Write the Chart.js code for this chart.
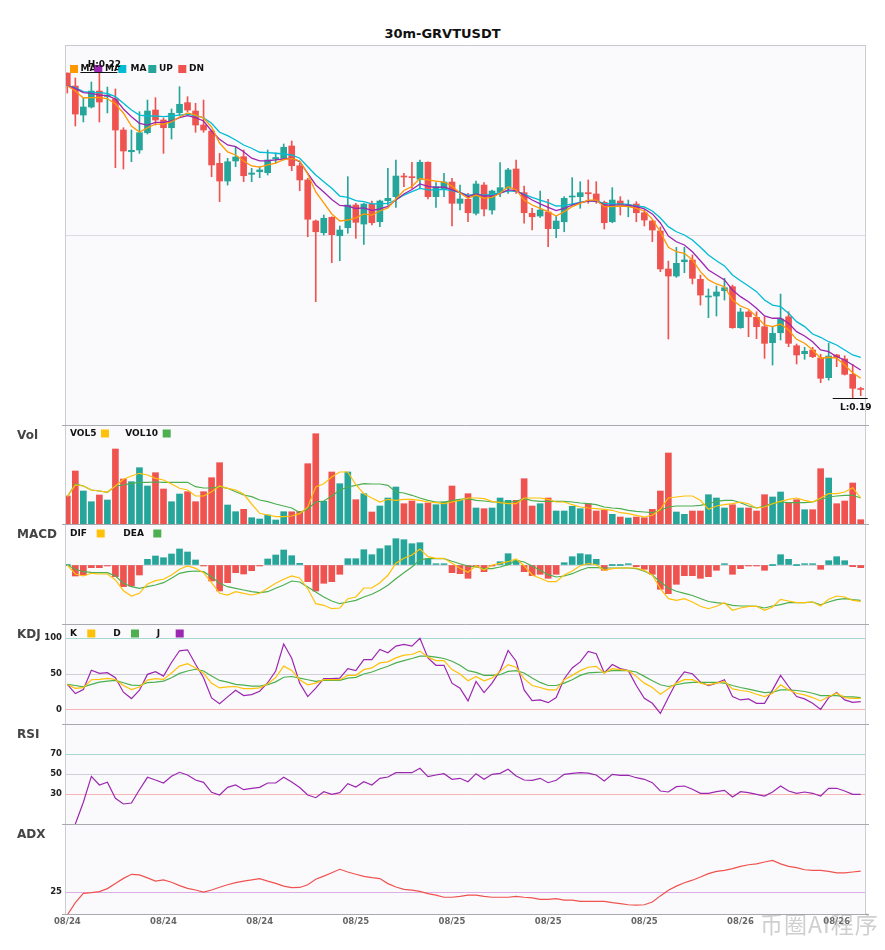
<!DOCTYPE html>
<html>
<head>
<meta charset="utf-8">
<script src="https://cdn.jsdelivr.net/npm/chart.js@4.4.1/dist/chart.umd.min.js"></script>
<style>
    body { margin: 0; width: 885px; height: 950px; position: relative; overflow: hidden; background: #fff; font-family: "DejaVu Sans", sans-serif; }
    canvas { position: absolute; left: 0; }
    .title { position: absolute; left: 0; top: 26px; width: 885px; text-align: center; font-weight: bold; font-size: 13px; line-height: 16px; color: #111; }
    .pname { position: absolute; left: 17px; font-weight: bold; font-size: 12px; line-height: 14px; color: #444; }
    .mark { position: absolute; left: 760px; top: 906px; font-family: "Noto Sans CJK SC", sans-serif; font-size: 23px; color: rgba(160, 160, 160, 0.5); letter-spacing: 1px; }
</style>
</head>
<body>
<div class="title">30m-GRVTUSDT</div>
<canvas id="main" width="885" height="380" style="top:45px"></canvas>
<canvas id="vol" width="885" height="99" style="top:425px"></canvas>
<canvas id="macd" width="885" height="100" style="top:524px"></canvas>
<canvas id="kdj" width="885" height="100" style="top:624px"></canvas>
<canvas id="rsi" width="885" height="100" style="top:724px"></canvas>
<canvas id="adx" width="885" height="116" style="top:824px"></canvas>
<div class="pname" style="top:428px">Vol</div>
<div class="pname" style="top:527px">MACD</div>
<div class="pname" style="top:627px">KDJ</div>
<div class="pname" style="top:727px">RSI</div>
<div class="pname" style="top:827px">ADX</div>
<div class="mark">币圈AI程序</div>
<script>
// x axis: one tick label every 12 candles (6 hours)
var tickIdx = [0, 12, 24, 36, 48, 60, 72, 84, 96];
var tickLabels = ['08/24', '08/24', '08/24', '08/25', '08/25', '08/25', '08/25', '08/26', '08/26'];

var opens = [
    0.21992, 0.21872, 0.21605, 0.21679, 0.21826, 0.21776, 0.21753, 0.21467, 0.21267, 0.21283,
    0.21442, 0.21651, 0.21559, 0.21488, 0.21626, 0.21719, 0.21642, 0.21513, 0.21458, 0.21160,
    0.20997, 0.21182, 0.21221, 0.21059, 0.21083, 0.21074, 0.21200, 0.21206, 0.21320, 0.21138,
    0.21007, 0.20629, 0.20521, 0.20663, 0.20493, 0.20567, 0.20776, 0.20601, 0.20785, 0.20622,
    0.20816, 0.20853, 0.21041, 0.21034, 0.21013, 0.21170, 0.20853, 0.20921, 0.20988, 0.20792,
    0.20829, 0.20700, 0.20960, 0.20730, 0.20893, 0.20930, 0.21108, 0.20890, 0.20700, 0.20675,
    0.20712, 0.20558, 0.20622, 0.20850, 0.20853, 0.20890, 0.20878, 0.20801, 0.20622, 0.20813,
    0.20761, 0.20785, 0.20705, 0.20629, 0.20537, 0.20187, 0.20122, 0.20254, 0.20270, 0.20092,
    0.19929, 0.19938, 0.19987, 0.20024, 0.19646, 0.19791, 0.19742, 0.19655, 0.19508, 0.19600,
    0.19747, 0.19480, 0.19407, 0.19441, 0.19367, 0.19186, 0.19395, 0.19358, 0.19217, 0.19086
];
var highs = [
    0.21992, 0.21946, 0.21762, 0.21909, 0.22000, 0.21863, 0.21845, 0.21488, 0.21467, 0.21636,
    0.21743, 0.21765, 0.21578, 0.21661, 0.21866, 0.21774, 0.21713, 0.21743, 0.21467, 0.21252,
    0.21206, 0.21313, 0.21283, 0.21114, 0.21129, 0.21283, 0.21255, 0.21338, 0.21366, 0.21160,
    0.21022, 0.20638, 0.20684, 0.20668, 0.20583, 0.21037, 0.20792, 0.20792, 0.20813, 0.20822,
    0.21114, 0.21191, 0.21068, 0.21170, 0.21191, 0.21175, 0.20982, 0.21068, 0.21022, 0.20960,
    0.20884, 0.20997, 0.20982, 0.20914, 0.21166, 0.21114, 0.21191, 0.20951, 0.20746, 0.20905,
    0.20829, 0.20675, 0.20853, 0.21028, 0.20991, 0.21007, 0.20991, 0.20813, 0.20936, 0.20853,
    0.20822, 0.20807, 0.20730, 0.20638, 0.20574, 0.20260, 0.20387, 0.20387, 0.20316, 0.20131,
    0.20003, 0.20030, 0.20101, 0.20039, 0.19825, 0.19803, 0.19793, 0.19747, 0.19650, 0.19956,
    0.19793, 0.19496, 0.19466, 0.19466, 0.19401, 0.19502, 0.19401, 0.19388, 0.19309, 0.19097
];
var lows = [
    0.21808, 0.21504, 0.21541, 0.21670, 0.21541, 0.21624, 0.21120, 0.21108, 0.21175, 0.21252,
    0.21430, 0.21513, 0.21252, 0.21384, 0.21605, 0.21636, 0.21446, 0.21446, 0.21037, 0.20807,
    0.20960, 0.21129, 0.20991, 0.20991, 0.21028, 0.21053, 0.21163, 0.21191, 0.21092, 0.20908,
    0.20484, 0.19886, 0.20500, 0.20245, 0.20263, 0.20516, 0.20470, 0.20414, 0.20592, 0.20576,
    0.20776, 0.20755, 0.20945, 0.20930, 0.20930, 0.20832, 0.20755, 0.20853, 0.20583, 0.20730,
    0.20622, 0.20684, 0.20675, 0.20693, 0.20853, 0.20884, 0.20884, 0.20608, 0.20546, 0.20663,
    0.20392, 0.20475, 0.20530, 0.20776, 0.20746, 0.20792, 0.20792, 0.20555, 0.20613, 0.20684,
    0.20668, 0.20622, 0.20583, 0.20438, 0.20162, 0.19542, 0.20110, 0.20153, 0.20049, 0.19855,
    0.19738, 0.19754, 0.19901, 0.19641, 0.19641, 0.19563, 0.19545, 0.19364, 0.19302, 0.19533,
    0.19471, 0.19312, 0.19355, 0.19370, 0.19140, 0.19164, 0.19287, 0.19210, 0.19000, 0.19020
];
var closes = [
    0.21872, 0.21614, 0.21679, 0.21826, 0.21725, 0.21789, 0.21467, 0.21274, 0.21280, 0.21442,
    0.21642, 0.21559, 0.21488, 0.21621, 0.21704, 0.21651, 0.21513, 0.21467, 0.21145, 0.20997,
    0.21175, 0.21218, 0.21046, 0.21071, 0.21099, 0.21191, 0.21214, 0.21308, 0.21138, 0.21007,
    0.20645, 0.20530, 0.20654, 0.20503, 0.20546, 0.20776, 0.20617, 0.20785, 0.20613, 0.20813,
    0.20838, 0.21043, 0.21034, 0.21028, 0.21170, 0.20853, 0.20945, 0.20988, 0.20792, 0.20832,
    0.20705, 0.20970, 0.20739, 0.20905, 0.20936, 0.21099, 0.20899, 0.20705, 0.20668, 0.20730,
    0.20558, 0.20629, 0.20838, 0.20859, 0.20890, 0.20880, 0.20807, 0.20613, 0.20822, 0.20776,
    0.20776, 0.20705, 0.20638, 0.20546, 0.20187, 0.20122, 0.20239, 0.20270, 0.20101, 0.19947,
    0.19938, 0.19975, 0.20014, 0.19646, 0.19791, 0.19747, 0.19655, 0.19502, 0.19594, 0.19726,
    0.19502, 0.19395, 0.19429, 0.19379, 0.19180, 0.19385, 0.19370, 0.19217, 0.19088, 0.19077
];

var ma5 = [
    0.21875, 0.21826, 0.21762, 0.21766, 0.21766, 0.21757, 0.21707, 0.21624, 0.21504, 0.21449,
    0.21486, 0.21522, 0.21522, 0.21541, 0.21587, 0.21624, 0.21605, 0.21578, 0.21495, 0.21347,
    0.21265, 0.21237, 0.21182, 0.21136, 0.21126, 0.21145, 0.21163, 0.21195, 0.21205, 0.21182,
    0.21062, 0.20896, 0.20795, 0.20694, 0.20629, 0.20638, 0.20657, 0.20694, 0.20684, 0.20721,
    0.20749, 0.20832, 0.20910, 0.20947, 0.21020, 0.21007, 0.20997, 0.20988, 0.20951, 0.20887,
    0.20838, 0.20868, 0.20838, 0.20847, 0.20884, 0.20945, 0.20915, 0.20822, 0.20776, 0.20746,
    0.20715, 0.20675, 0.20715, 0.20761, 0.20792, 0.20822, 0.20822, 0.20761, 0.20761, 0.20767,
    0.20761, 0.20746, 0.20721, 0.20647, 0.20528, 0.20387, 0.20346, 0.20332, 0.20270, 0.20162,
    0.20086, 0.20049, 0.20024, 0.19901, 0.19846, 0.19816, 0.19748, 0.19671, 0.19656, 0.19680,
    0.19625, 0.19539, 0.19503, 0.19441, 0.19365, 0.19374, 0.19365, 0.19303, 0.19232, 0.19180
];
var ma10 = [
    0.21875, 0.21851, 0.21811, 0.21805, 0.21789, 0.21783, 0.21753, 0.21661, 0.21590, 0.21529,
    0.21513, 0.21538, 0.21538, 0.21550, 0.21580, 0.21599, 0.21580, 0.21550, 0.21458, 0.21381,
    0.21329, 0.21313, 0.21267, 0.21207, 0.21182, 0.21184, 0.21191, 0.21200, 0.21207, 0.21175,
    0.21068, 0.20961, 0.20896, 0.20827, 0.20772, 0.20767, 0.20744, 0.20749, 0.20726, 0.20740,
    0.20763, 0.20822, 0.20878, 0.20919, 0.20970, 0.20947, 0.20938, 0.20942, 0.20915, 0.20892,
    0.20853, 0.20878, 0.20859, 0.20859, 0.20884, 0.20915, 0.20908, 0.20868, 0.20822, 0.20786,
    0.20755, 0.20724, 0.20746, 0.20776, 0.20798, 0.20813, 0.20813, 0.20776, 0.20776, 0.20776,
    0.20774, 0.20761, 0.20740, 0.20694, 0.20611, 0.20491, 0.20438, 0.20408, 0.20346, 0.20263,
    0.20178, 0.20132, 0.20086, 0.19994, 0.19932, 0.19886, 0.19825, 0.19754, 0.19733, 0.19733,
    0.19687, 0.19610, 0.19570, 0.19517, 0.19441, 0.19425, 0.19379, 0.19349, 0.19303, 0.19257
];
var ma20 = [
    0.21875, 0.21857, 0.21820, 0.21814, 0.21811, 0.21805, 0.21774, 0.21713, 0.21651, 0.21605,
    0.21596, 0.21596, 0.21590, 0.21596, 0.21605, 0.21612, 0.21599, 0.21580, 0.21529, 0.21446,
    0.21415, 0.21375, 0.21329, 0.21299, 0.21262, 0.21258, 0.21253, 0.21246, 0.21237, 0.21207,
    0.21129, 0.21053, 0.20991, 0.20930, 0.20859, 0.20847, 0.20816, 0.20807, 0.20786, 0.20786,
    0.20792, 0.20822, 0.20868, 0.20899, 0.20930, 0.20915, 0.20915, 0.20921, 0.20908, 0.20890,
    0.20868, 0.20875, 0.20868, 0.20875, 0.20890, 0.20905, 0.20905, 0.20875, 0.20847, 0.20822,
    0.20798, 0.20767, 0.20770, 0.20786, 0.20801, 0.20813, 0.20813, 0.20792, 0.20786, 0.20786,
    0.20783, 0.20767, 0.20758, 0.20721, 0.20657, 0.20577, 0.20530, 0.20500, 0.20454, 0.20387,
    0.20316, 0.20263, 0.20215, 0.20132, 0.20079, 0.20030, 0.19978, 0.19901, 0.19855, 0.19840,
    0.19779, 0.19702, 0.19656, 0.19588, 0.19558, 0.19517, 0.19487, 0.19441, 0.19395, 0.19374
];

var volumes = [
    28, 53, 33, 22.3, 29, 24, 75, 45, 42.3, 56.3,
    38, 51.3, 35, 22.3, 30, 32.3, 22.3, 32.3, 46.3, 61.3,
    19, 12.3, 14.7, 6.3, 5, 9, 4, 12.3, 12.2, 12.7,
    60.3, 90.3, 22.7, 52, 40.3, 52, 24.3, 30.3, 12, 18,
    26, 37, 20.3, 23, 20.3, 21, 19.3, 22, 38, 24.7,
    30.3, 16, 15.3, 16, 26, 23.7, 23.7, 45.3, 18, 20.3,
    26, 13, 13, 17.7, 15.3, 20.3, 13, 13.7, 9.7, 7,
    6, 7, 6.3, 14.7, 33, 71, 12, 9.7, 13, 13,
    29.3, 26, 16, 19.3, 16, 16, 13, 29.3, 27, 32,
    21, 24.3, 14.3, 14.3, 55.3, 46, 20.3, 23, 41, 4.3
];
var vol5 = [
    27.3, 39, 38, 34, 33, 32, 38, 44.7, 48, 50.7,
    49, 45.7, 44, 40, 35.7, 34, 28, 28, 32.3, 38,
    35.7, 34, 30, 20, 10.7, 9, 7.3, 7.3, 8, 10.3,
    17, 37, 40.3, 47, 52, 52, 39.3, 30.3, 26, 22,
    24.7, 23.7, 24.7, 24.7, 23.7, 22, 21.3, 20.3, 22, 23.7,
    26, 26, 25.3, 22.7, 21.3, 20.3, 20.3, 26, 26, 26,
    24.7, 22, 22, 19.3, 17, 16, 15.3, 14.7, 13.7, 11.3,
    10.3, 8.7, 7, 8.7, 14.7, 26, 27, 28, 28, 23.7,
    14.7, 18, 19.3, 20.3, 22, 20.3, 16, 17, 20.3, 22.7,
    24.7, 26, 23.7, 22, 26, 30.3, 30.3, 32, 36.3, 26
];
var vol10 = [
    27.3, 40, 38, 34, 33, 31.7, 38, 39, 40.7, 41.7,
    41.7, 42, 41.7, 41.7, 41.7, 41.7, 37.3, 36, 36, 37.3,
    35.7, 32.3, 29, 27.3, 24, 22.3, 20, 18, 16, 11.5,
    15, 22, 23, 28, 33.7, 37, 38.7, 40.3, 40, 40,
    38.7, 32, 31, 28.7, 26, 23.7, 22, 22, 23.3, 24.7,
    25.3, 23.7, 23, 22, 22, 22, 22.7, 25.3, 23.3, 22.7,
    22.7, 22.7, 22.7, 22, 21, 20.3, 19.3, 17, 16, 15.3,
    13.7, 12.7, 12, 11.3, 13.7, 17, 18, 18, 18, 18.7,
    20.3, 22.7, 23.7, 23.7, 21.3, 18, 16, 18, 20.3, 22,
    21.3, 21.3, 21.3, 22, 24.7, 27, 28, 28.7, 28.7, 26
];

var macdHist = [
    0, -0.00022, -0.0002, -0.000054, -0.000054, -0.00002, -0.000234, -0.000434, -0.00042, -0.0002,
    0.000114, 0.00018, 0.000146, 0.00022, 0.00032, 0.00026, 0.0001, -0.00002, -0.00032, -0.00052,
    -0.000354, -0.000154, -0.00018, -0.000114, -0.00002, 0.00012, 0.0002, 0.0003, 0.000186, 0.000034,
    -0.000334, -0.00052, -0.000366, -0.000334, -0.000186, 0.000126, 0.000126, 0.000306, 0.000206, 0.000326,
    0.000386, 0.000526, 0.000506, 0.000426, 0.000446, 0.000126, 0.000026, 0.000026, -0.000154, -0.000174,
    -0.000266, -0.000034, -0.000134, -0.00002, 0.000066, 0.000226, 0.000086, -0.000134, -0.000214, -0.000186,
    -0.000266, -0.000186, 0.000046, 0.000166, 0.000226, 0.000206, 0.000114, -0.000106, 0, 0,
    0.000026, -0.000034, -0.000086, -0.000186, -0.000486, -0.000574, -0.000386, -0.000214, -0.000214, -0.000266,
    -0.000234, -0.000106, 0.000026, -0.000186, -0.000074, -0.000014, -0.000014, -0.000106, 0, 0.000206,
    0.000114, 0, 0.000026, 0.000026, -0.000086, 0.000086, 0.000166, 0.000086, -0.000034, -0.000054
];
var dif = [
    0, -0.00018, -0.00022, -0.000166, -0.00018, -0.00018, -0.0003, -0.000514, -0.00062, -0.000566,
    -0.00038, -0.000314, -0.000286, -0.0002, -0.000086, -0.00002, -0.000066, -0.000154, -0.000354, -0.000566,
    -0.0006, -0.000534, -0.000566, -0.0006, -0.000566, -0.000466, -0.000366, -0.000286, -0.00022, -0.00026,
    -0.000474, -0.000774, -0.000806, -0.000874, -0.00086, -0.000674, -0.00064, -0.00046, -0.00046, -0.000354,
    -0.000206, 0.000034, 0.000134, 0.0002, 0.00032, 0.000166, 0.000134, 0.000134, 0.000034, -0.000066,
    -0.000146, -0.000014, -0.0001, 0, 0.000034, 0.000066, 0.00012, -0.000014, -0.0002, -0.000266,
    -0.000334, -0.000334, -0.0002, -0.00012, -0.000014, 0.00003, 0.000006, -0.000106, -0.000074, -0.00006,
    -0.00006, -0.00006, -0.000106, -0.000206, -0.000474, -0.000674, -0.000706, -0.000674, -0.00074, -0.000826,
    -0.000874, -0.000826, -0.000754, -0.000906, -0.00086, -0.000826, -0.000826, -0.000906, -0.00084, -0.000686,
    -0.00072, -0.000754, -0.000754, -0.00074, -0.00082, -0.000686, -0.00062, -0.00064, -0.000706, -0.000726
];
var dea = [
    0, -0.000086, -0.000134, -0.000146, -0.000154, -0.000154, -0.00022, -0.000366, -0.000434, -0.000466,
    -0.000434, -0.0004, -0.000354, -0.000266, -0.000166, -0.000134, -0.00012, -0.000134, -0.000234, -0.000366,
    -0.000434, -0.000466, -0.0005, -0.000534, -0.000554, -0.000534, -0.000466, -0.0004, -0.00032, -0.00034,
    -0.00044, -0.00054, -0.00064, -0.00072, -0.000774, -0.00074, -0.000706, -0.00064, -0.000586, -0.000506,
    -0.000406, -0.000274, -0.000154, -0.00004, 0.000106, 0.000126, 0.000126, 0.000126, 0.000074, 0.000026,
    -0.00002, -0.00004, -0.000074, -0.000074, -0.00004, 0.000006, 0.000094, 0.00006, -0.00002, -0.000106,
    -0.000194, -0.00024, -0.00022, -0.000174, -0.000106, -0.00005, -0.000054, -0.00006, -0.00006, -0.00006,
    -0.00006, -0.000074, -0.000126, -0.0002, -0.00034, -0.00046, -0.000526, -0.000566, -0.00061, -0.00067,
    -0.00073, -0.000754, -0.00077, -0.000806, -0.00082, -0.00082, -0.000826, -0.00086, -0.00082, -0.000794,
    -0.000754, -0.000754, -0.000754, -0.00074, -0.000794, -0.00074, -0.000694, -0.000674, -0.000694, -0.000706
];

var kValues = [
    35.4, 30, 30.8, 42, 42.5, 44, 42.3, 33.8, 28.2, 31.8,
    41.5, 43.5, 42.4, 51.5, 61, 64.5, 58.5, 51, 37, 30.5,
    32, 32.5, 29.5, 29.5, 30.6, 36.2, 45, 61, 55, 42,
    34.9, 37.2, 42, 42, 42, 48.1, 48.1, 56.1, 58.5, 65.5,
    67, 72.6, 76.4, 77.3, 82, 73.6, 68.8, 68.8, 56.1, 50,
    40.5, 46.7, 40.5, 44.3, 53.7, 63.2, 59.4, 43.4, 33.9, 31.1,
    27.8, 27.8, 42, 48.1, 54.7, 59.5, 60.8, 51.4, 57.5, 56.1,
    54.7, 46.7, 37.2, 31.1, 21.7, 29.2, 37.2, 42, 42, 37.2,
    34.9, 37.2, 39.6, 29.2, 26.9, 25.5, 21.7, 18.4, 23.1, 34.9,
    27.8, 23.1, 20.7, 17, 12.3, 18.4, 23.1, 17, 16, 16
];
var dValues = [
    35.4, 33.9, 32.1, 35.4, 38.6, 40, 41, 37.8, 34.4, 33.9,
    37.8, 38.6, 40, 44.8, 50.9, 54.2, 56.6, 54.2, 47.1, 41,
    38.6, 35.4, 34.4, 33, 33, 35, 39, 45.5, 46.5, 44.3,
    42, 39.6, 41, 41, 41, 44.3, 45.3, 50, 52.8, 57,
    60.8, 65.5, 68.8, 71.7, 75, 75, 73.6, 71.7, 67.9, 62.2,
    54.7, 52.3, 48.1, 48.1, 49, 53.7, 54.7, 51.4, 44.3, 38.2,
    33.9, 33.9, 37.2, 42, 48.1, 51.5, 52.3, 52.8, 54.7, 55.2,
    54.7, 52.8, 46.7, 40.5, 34.9, 32.5, 34.9, 37.2, 38.2, 38.2,
    38.2, 38.2, 37.2, 33.9, 31.1, 28.8, 26.4, 24, 24.5, 27.8,
    27.8, 26.9, 25.5, 23.1, 19.8, 19.8, 19.8, 18.4, 17.9, 17
];
var jValues = [
    35.4, 22.6, 28.3, 55.2, 50.9, 51.9, 44.8, 24.5, 15.6, 27.3,
    49.5, 53.3, 47.1, 66.1, 82.5, 83.9, 63.6, 44.8, 16.5, 8.5,
    18, 27.3, 19.8, 21.2, 25.9, 37.8, 54.2, 91.9, 72, 37.2,
    18.4, 30.2, 43.4, 43.4, 44.3, 57.5, 54.7, 70.2, 70.2, 84.4,
    79.7, 89.1, 91.5, 89.1, 100, 72.6, 62.2, 62.2, 37.2, 30.2,
    12.3, 39.6, 24, 37.2, 54.7, 83, 67.9, 27.8, 12.7, 13.7,
    9.9, 17, 43.4, 58.5, 67, 81.5, 78.3, 51.4, 63.2, 57.5,
    54.7, 33.9, 16, 9, -5.2, 17, 38.7, 52.8, 50.4, 38.7,
    33.9, 37.2, 42, 18.4, 13.7, 15.1, 9, 9, 27.8, 48.1,
    32.5, 18.4, 15.1, 9, 0.5, 17, 24, 13.7, 10.4, 11.3
];

var rsi = [
    null, 0, 21.7, 47.7, 39, 41.7, 25.7, 20, 21, 34.3,
    46.7, 44, 41, 47.7, 51.7, 49, 44, 41.7, 31.7, 29,
    36.7, 39, 34.3, 35.7, 36.7, 41, 41, 46.7, 42, 36.5,
    29, 26.3, 32.3, 29.7, 31.3, 40.3, 37, 42.3, 39, 45.7,
    47, 51.3, 51.3, 51.3, 55.7, 47.3, 49, 50.3, 44.7, 45.7,
    42.3, 50.3, 44.7, 49.7, 50.7, 54.7, 48, 44, 43.7, 45.7,
    41.3, 43.7, 49.7, 50.7, 51.3, 50.8, 49, 43, 49.7, 48.7,
    48.7, 46.3, 44.7, 41.3, 33, 32, 37.3, 38, 34.7, 30.7,
    30.7, 32.3, 33.7, 27, 32.3, 31.3, 29.7, 28, 32, 38,
    33, 30.7, 32, 30.7, 28, 35.7, 35.7, 33, 29.7, 29.7
];

var adx = [
    15, 20.4, 24.5, 24.8, 25.3, 26.6, 28.9, 31.1, 32.9, 32.6,
    31.3, 29.9, 30.4, 29.4, 27.9, 26.7, 26, 25.1, 26, 27.2,
    28.3, 29.2, 29.9, 30.4, 31, 29.9, 28.9, 27.7, 27, 27.1,
    28.3, 30.7, 32.1, 33.6, 35.1, 33.9, 32.9, 32, 31.4, 31,
    28.8, 27.3, 26.3, 25.9, 25.4, 24.4, 23.7, 22.8, 22.8, 23.2,
    23.7, 23.7, 23.2, 22.8, 22.8, 22.8, 23.2, 22.8, 22.5, 21.9,
    21.9, 22.2, 21.5, 21.5, 21, 21, 21, 21, 20.4, 20,
    19.5, 19.3, 19.5, 20.7, 23.4, 25.9, 27.7, 29.2, 30.3, 31.7,
    33.2, 34.2, 34.6, 35.4, 36.4, 37.1, 37.5, 38.3, 39, 37.5,
    36.4, 35.8, 34.9, 34.6, 34.6, 34.2, 33.5, 33.5, 33.9, 34.3
];

// reference levels drawn as grid lines
var priceTicks = [0.205];
var macdTicks = [0];
var kdjTicks = [0, 50, 100];
var rsiTicks = [30, 50, 70];
var adxTicks = [25];

var UP = '#26a69a';
var DN = '#ef5350';

Chart.defaults.font.family = '"DejaVu Sans", sans-serif';

function points(arr) {
    return arr.map(function (v, i) { return { x: i, y: v }; });
}

function spans(a, b) {
    return a.map(function (v, i) { return { x: i, y: [v, b[i]] }; });
}

var candleColors = closes.map(function (c, i) { return c >= opens[i] ? UP : DN; });
var histColors = macdHist.map(function (v) { return v >= 0 ? UP : DN; });

function lineSet(arr, color, width) {
    return {
        type: 'line',
        data: points(arr),
        borderColor: color,
        borderWidth: width || 1.2,
        pointRadius: 0,
        tension: 0,
        order: 0
    };
}

function barSet(data, colors, thickness, order) {
    return {
        type: 'bar',
        data: data,
        backgroundColor: colors,
        barThickness: thickness,
        minBarLength: 1,
        grouped: false,
        borderWidth: 0,
        order: order
    };
}

// background, frame and the little legend of every panel
function panelPlugin(cfg) {
    return {
        id: 'panel',
        beforeDraw: function (chart) {
            var ctx = chart.ctx, a = chart.chartArea;
            ctx.save();
            ctx.fillStyle = '#fafafc';
            ctx.fillRect(a.left, a.top, a.right - a.left, a.bottom - a.top);
            ctx.restore();
        },
        afterDraw: function (chart) {
            var ctx = chart.ctx, a = chart.chartArea;
            ctx.save();
            ctx.lineWidth = 1;
            ctx.strokeStyle = '#cdcdd4';
            ctx.beginPath();
            ctx.moveTo(a.left + 0.5, a.top);
            ctx.lineTo(a.left + 0.5, a.bottom);
            ctx.moveTo(a.right - 0.5, a.top);
            ctx.lineTo(a.right - 0.5, a.bottom);
            ctx.stroke();
            ctx.strokeStyle = cfg.topColor;
            ctx.beginPath();
            ctx.moveTo(a.left - cfg.tick, a.top + 0.5);
            ctx.lineTo(a.right + cfg.tick, a.top + 0.5);
            if (cfg.bottom) {
                ctx.moveTo(a.left - cfg.tick, a.bottom - 0.5);
                ctx.lineTo(a.right + cfg.tick, a.bottom - 0.5);
            }
            ctx.stroke();

            ctx.font = 'bold 9px "DejaVu Sans"';
            ctx.textBaseline = 'middle';
            cfg.legend.forEach(function (it) {
                ctx.fillStyle = it.color;
                ctx.fillRect(it.boxX, a.top + cfg.legendY - 4, 8, 8);
                ctx.fillStyle = '#111';
                ctx.fillText(it.text, it.textX, a.top + cfg.legendY);
            });
            ctx.restore();
        }
    };
}

// H / L markers on the price panel
var hiLoPlugin = {
    id: 'hiLo',
    afterDraw: function (chart) {
        var ctx = chart.ctx, xs = chart.scales.x, ys = chart.scales.y;
        var hi = 0, lo = 0;
        highs.forEach(function (v, i) { if (v > highs[hi]) hi = i; });
        lows.forEach(function (v, i) { if (v < lows[lo]) lo = i; });
        var xh = xs.getPixelForValue(hi), yh = ys.getPixelForValue(highs[hi]);
        var xl = xs.getPixelForValue(lo), yl = ys.getPixelForValue(lows[lo]);
        ctx.save();
        ctx.strokeStyle = '#111';
        ctx.lineWidth = 1;
        ctx.beginPath();
        ctx.moveTo(xh - 19, Math.round(yh) + 0.5);
        ctx.lineTo(xh + 18, Math.round(yh) + 0.5);
        ctx.moveTo(xl - 20, Math.round(yl) + 0.5);
        ctx.lineTo(xl + 15, Math.round(yl) + 0.5);
        ctx.stroke();
        ctx.fillStyle = '#111';
        ctx.font = 'bold 9px "DejaVu Sans"';
        ctx.textAlign = 'center';
        ctx.textBaseline = 'bottom';
        ctx.fillText('H:' + highs[hi].toFixed(2), xh + 5, yh - 3);
        ctx.textBaseline = 'top';
        ctx.fillText('L:' + lows[lo].toFixed(2), xl + 3, yl + 5);
        ctx.restore();
    }
};

function xAxis(show) {
    var axis = {
        type: 'linear',
        min: -0.29,
        max: 99.66,
        offset: false,
        display: show,
        grid: { display: false, drawTicks: false },
        border: { display: false },
        afterBuildTicks: function (s) { s.ticks = tickIdx.map(function (v) { return { value: v }; }); },
        ticks: {
            autoSkip: false,
            maxRotation: 0,
            padding: 2,
            color: '#666',
            font: { size: 8.5, weight: 'bold' },
            callback: function (v, i) { return tickLabels[i]; }
        }
    };
    // only the bottom panel keeps a strip for the date labels
    if (show) {
        axis.afterFit = function (s) {
            s.height = 25;
            s.paddingLeft = 0;
            s.paddingRight = 0;
        };
    }
    return axis;
}

function yAxis(min, max, ticks, gridColors, showLabels) {
    return {
        position: 'left',
        min: min,
        max: max,
        afterBuildTicks: function (s) { s.ticks = ticks.map(function (v) { return { value: v }; }); },
        afterFit: function (s) {
            // fixed gutter, and no extra room asked for the edge labels
            s.width = 65;
            s.paddingTop = 0;
            s.paddingBottom = 0;
        },
        grid: {
            display: ticks.length > 0,
            drawTicks: false,
            color: function (c) { return gridColors[c.index]; }
        },
        border: { display: false },
        ticks: {
            display: showLabels,
            padding: 3,
            color: '#222',
            font: { size: 8.5, weight: 'bold' },
            callback: function (v) { return String(v); }
        }
    };
}

function makeChart(id, datasets, yScale, showX, plugins) {
    return new Chart(document.getElementById(id), {
        type: 'bar',
        data: { datasets: datasets },
        options: {
            responsive: false,
            animation: false,
            events: [],
            layout: { padding: { left: 0, right: 19, top: 0, bottom: 0 } },
            plugins: { legend: { display: false }, tooltip: { enabled: false } },
            scales: { x: xAxis(showX), y: yScale }
        },
        plugins: plugins
    });
}

makeChart('main', [
    lineSet(ma5, '#ff9800', 1.3),
    lineSet(ma10, '#9c27b0', 1.3),
    lineSet(ma20, '#00bcd4', 1.3),
    barSet(spans(opens, closes), candleColors, 6, 1),
    barSet(spans(lows, highs), candleColors, 1, 2)
], yAxis(0.1875, 0.2225, priceTicks, ['#dcdce2'], false), false, [
    panelPlugin({ topColor: '#c8c8d0', tick: 0, legendY: 24, legend: [
        { text: 'MA', color: '#ff9800', boxX: 70, textX: 80.5 },
        { text: 'MA', color: '#9c27b0', boxX: 94.3, textX: 105 },
        { text: 'MA', color: '#00bcd4', boxX: 118.3, textX: 130.5 },
        { text: 'UP', color: UP, boxX: 148.3, textX: 159 },
        { text: 'DN', color: DN, boxX: 178.3, textX: 189 }
    ] }),
    hiLoPlugin
]);

makeChart('vol', [
    lineSet(vol5, '#ffc107'),
    lineSet(vol10, '#4caf50'),
    barSet(points(volumes), candleColors, 6, 1)
], yAxis(0, 99, [], [], false), false, [
    panelPlugin({ topColor: '#a9a9b0', tick: 3, legendY: 8.5, legend: [
        { text: 'VOL5', color: '#ffc107', boxX: 101, textX: 70 },
        { text: 'VOL10', color: '#4caf50', boxX: 162.7, textX: 125.3 }
    ] })
]);

makeChart('macd', [
    lineSet(dif, '#ffc107'),
    lineSet(dea, '#4caf50'),
    barSet(points(macdHist), histColors, 6, 1)
], yAxis(-0.00118, 0.00082, macdTicks, ['#d6d6dc'], false), false, [
    panelPlugin({ topColor: '#a9a9b0', tick: 3, legendY: 9.5, legend: [
        { text: 'DIF', color: '#ffc107', boxX: 96.7, textX: 70 },
        { text: 'DEA', color: '#4caf50', boxX: 153.3, textX: 123.3 }
    ] })
]);

makeChart('kdj', [
    lineSet(kValues, '#ffc107'),
    lineSet(dValues, '#4caf50'),
    lineSet(jValues, '#9c27b0')
], yAxis(-20, 120, kdjTicks, ['#f6b4b4', '#cfcfd5', '#a6d8d2'], true), false, [
    panelPlugin({ topColor: '#a9a9b0', tick: 3, legendY: 9.5, legend: [
        { text: 'K', color: '#ffc107', boxX: 87.3, textX: 70 },
        { text: 'D', color: '#4caf50', boxX: 131, textX: 113.3 },
        { text: 'J', color: '#9c27b0', boxX: 175.7, textX: 156.7 }
    ] })
]);

makeChart('rsi', [
    lineSet(rsi, '#9c27b0')
], yAxis(0, 100, rsiTicks, ['#f6b4b4', '#cfcfd5', '#a6d8d2'], true), false, [
    panelPlugin({ topColor: '#a9a9b0', tick: 3, legendY: 0, legend: [] })
]);

makeChart('adx', [
    lineSet(adx, '#f0524f')
], yAxis(15, 55, adxTicks, ['#dcaee6'], true), true, [
    panelPlugin({ topColor: '#a9a9b0', tick: 3, bottom: true, legendY: 0, legend: [] })
]);
</script>
</body>
</html>
